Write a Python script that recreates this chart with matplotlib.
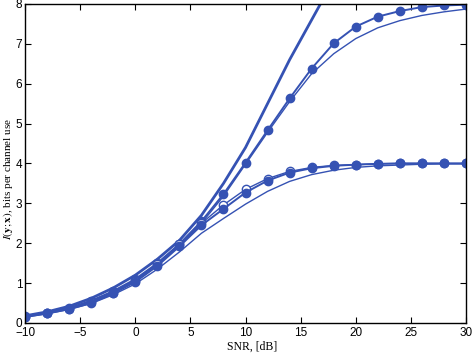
import numpy as np
import matplotlib
matplotlib.use("Agg")
import matplotlib.pyplot as plt

plt.rcParams['mathtext.fontset'] = 'stix'

# SNR grid (dB)
snr = [-10, -8, -6, -4, -2, 0, 2, 4, 6, 8, 10, 12, 14, 16, 18, 20, 22, 24, 26, 28, 30]

# thick curve (Gaussian input), only up to the top of the axes
snr_gauss = [-10, -8, -6, -4, -2, 0, 2, 4, 6, 8, 10, 12, 14, 16, 18]
i_gauss = [0.18, 0.28, 0.42, 0.62, 0.88, 1.2, 1.6, 2.07, 2.7, 3.5, 4.4, 5.5, 6.6, 7.6, 8.6]

# upper group (saturates at 8)
i_high_mark = [0.17, 0.26, 0.38, 0.56, 0.8, 1.1, 1.5, 1.98, 2.55, 3.23, 4.02, 4.83, 5.63,
               6.38, 7.01, 7.43, 7.68, 7.82, 7.92, 7.96, 7.98]
i_high_line = [0.16, 0.25, 0.37, 0.54, 0.78, 1.08, 1.47, 1.95, 2.5, 3.18, 3.98, 4.78, 5.55,
               6.25, 6.75, 7.13, 7.4, 7.58, 7.71, 7.8, 7.87]

# lower group (saturates at 4)
i_low_open = [0.16, 0.25, 0.36, 0.52, 0.76, 1.06, 1.47, 1.97, 2.5, 2.96, 3.35, 3.62, 3.8,
              3.9, 3.95, 3.97, 3.99, 4.0, 4.0, 4.0, 4.0]
i_low_mark = [0.15, 0.24, 0.35, 0.5, 0.74, 1.03, 1.43, 1.92, 2.45, 2.86, 3.27, 3.57, 3.77,
              3.88, 3.94, 3.97, 3.99, 4.0, 4.0, 4.0, 4.0]
i_low_line = [0.15, 0.23, 0.34, 0.49, 0.71, 0.98, 1.35, 1.78, 2.25, 2.62, 2.98, 3.3, 3.55,
              3.72, 3.83, 3.9, 3.94, 3.96, 3.98, 3.99, 3.99]

col = '#3552b3'

fig = plt.figure(figsize=(4.74, 3.53), dpi=100)
ax = fig.add_axes([0.053, 0.085, 0.93, 0.904])

ax.plot(snr_gauss, i_gauss, color=col, lw=2.0)
ax.plot(snr, i_high_line, color=col, lw=1.0)
ax.plot(snr, i_high_mark, color=col, lw=1.4, marker='o', ms=6, mfc=col, mec=col)
ax.plot(snr, i_low_line, color=col, lw=1.0)
ax.plot(snr, i_low_open, color=col, lw=1.0, marker='o', ms=6, mfc='white', mec=col)
ax.plot(snr, i_low_mark, color=col, lw=1.4, marker='o', ms=6, mfc=col, mec=col)

ax.set_xlim(-10, 30)
ax.set_ylim(0, 8)
ax.set_xticks([-10, -5, 0, 5, 10, 15, 20, 25, 30])
ax.set_yticks([0, 1, 2, 3, 4, 5, 6, 7, 8])
ax.tick_params(direction='in', top=True, right=True, labelsize=8.5, length=4)
ax.tick_params(axis='x', pad=3)
ax.tick_params(axis='y', pad=2)
for lab in ax.get_xticklabels() + ax.get_yticklabels():
    lab.set_family('Liberation Sans')
for s in ax.spines.values():
    s.set_linewidth(1.0)

ax.set_xlabel('SNR, [dB]', family='Liberation Serif', fontsize=8.5)
ax.xaxis.set_label_coords(0.515, -0.055)
ax.set_ylabel(r'$I(\mathbf{y};\mathbf{x})$, bits per channel use', family='Liberation Serif', fontsize=8)
ax.yaxis.set_label_coords(-0.022, 0.45)

fig.savefig('out.png', dpi=100)
